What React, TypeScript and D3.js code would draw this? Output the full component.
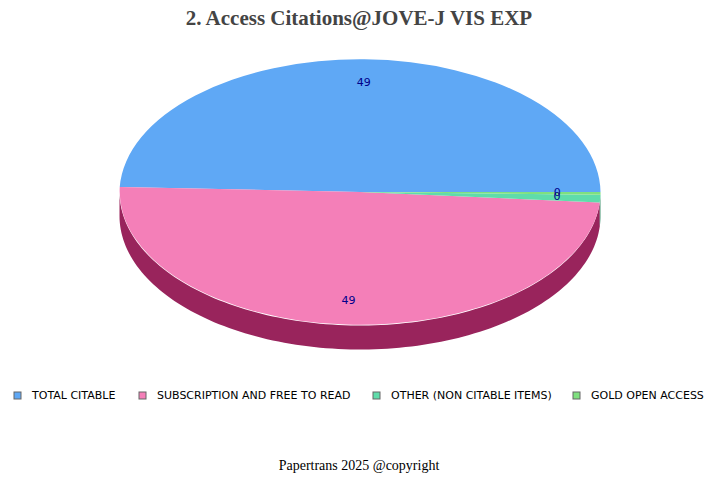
import React from "react";
import * as d3 from "d3";

const categories = ["TOTAL CITABLE", "SUBSCRIPTION AND FREE TO READ", "OTHER (NON CITABLE ITEMS)", "GOLD OPEN ACCESS"];
const values = [49.4, 49.35, 0.93, 0.32];
const labels = ["49", "49", "0", "0"];
const colors = ["#5fa8f5", "#f47fb8", "#5fdcaa", "#7fe07f"];
const sideColors = ["#2c6aa8", "#99245c", "#3a9070", "#4a9a4a"];
const legendX = [14, 139, 373, 573];

const W = 720, H = 480, cx = 360, cy = 192, rx = 240.5, ry = 133.5, depth = 24;

export default function App() {
  const pie = d3.pie<number>().sort(null).startAngle(Math.PI / 2).endAngle(Math.PI / 2 - 2 * Math.PI);
  const arcs = pie(values);
  const arc = d3.arc<any>().innerRadius(0).outerRadius(1);
  const sx = d3.scaleLinear().domain([-1, 1]).range([cx - rx, cx + rx]);
  const sy = d3.scaleLinear().domain([-1, 1]).range([cy - ry, cy + ry]);
  const wall = d3.area<number>()
    .x(a => sx(Math.sin(a)))
    .y0(a => sy(-Math.cos(a)))
    .y1(a => sy(-Math.cos(a)) + depth);

  const walls = arcs.map((d, i) => {
    // d3 angles run downward from the negative side: visible wall lies in sin/cos lower half
    const hi = Math.min(d.startAngle, Math.PI / 2);
    const lo = Math.max(d.endAngle, -Math.PI / 2);
    const hi2 = d.startAngle;
    const lo2 = d.endAngle;
    const a0 = Math.min(hi2, -Math.PI / 2);
    const a1 = Math.max(lo2, -3 * Math.PI / 2);
    if (a0 <= a1) return null;
    const steps = d3.range(a1, a0, (a0 - a1) / 120).concat([a0]);
    return <path key={i} d={wall(steps) ?? ""} fill={sideColors[i]} />;
  });

  const labelPos = arcs.map(d => {
    const mid = (d.startAngle + d.endAngle) / 2;
    return [sx(0.82 * Math.sin(mid)), sy(-0.82 * Math.cos(mid))];
  });

  return (
    <svg width={W} height={H} style={{ position: "absolute", left: 0, top: 0 }}>
      <rect width={W} height={H} fill="#ffffff" />
      <text x={359} y={25} textAnchor="middle" fontFamily="Liberation Serif" fontWeight="bold" fontSize={21} fill="#444444">
        2. Access Citations@JOVE-J VIS EXP
      </text>
      {walls}
      {arcs.map((d, i) => (
        <path key={i} d={arc(d) ?? ""} fill={colors[i]}
          transform={`translate(${cx},${cy}) scale(${rx},${ry})`} />
      ))}
      {arcs.map((d, i) => (
        <text key={i} x={labelPos[i][0]} y={labelPos[i][1]} textAnchor="middle" dominantBaseline="middle"
          fontFamily="DejaVu Sans" fontSize={11} fill="#00008b">{labels[i]}</text>
      ))}
      {categories.map((c, i) => (
        <g key={c}>
          <rect x={legendX[i]} y={392} width={7} height={7} fill={colors[i]} stroke="#666666" strokeWidth={1} />
          <text x={legendX[i] + 18} y={399} fontFamily="DejaVu Sans" fontSize={11} fill="#000000">{c}</text>
        </g>
      ))}
      <text x={359} y={470} textAnchor="middle" fontFamily="Liberation Serif" fontSize={14} fill="#000000">
        Papertrans 2025 @copyright
      </text>
    </svg>
  );
}
